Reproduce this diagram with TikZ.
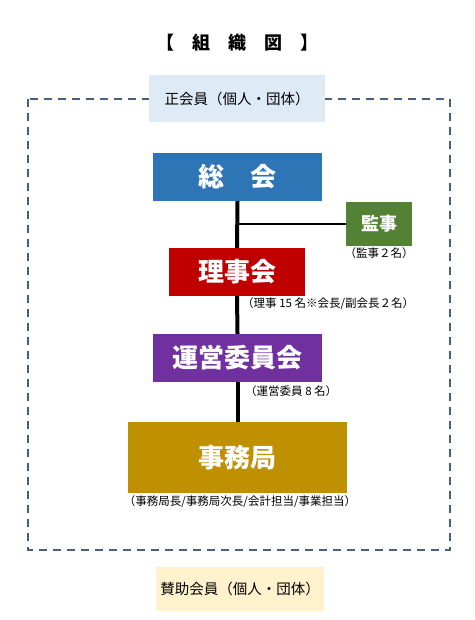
\documentclass[tikz,border=0pt]{standalone}
\usepackage{fontspec}
\setmainfont{Noto Sans CJK JP}
\usepackage{xcolor}
\usetikzlibrary{positioning,calc}

\definecolor{soukaiblue}{HTML}{2E75B6}
\definecolor{rijired}{HTML}{C00000}
\definecolor{kanjigreen}{HTML}{548235}
\definecolor{uneipurple}{HTML}{7030A0}
\definecolor{jimugold}{HTML}{BF9000}
\definecolor{memberblue}{HTML}{DEEBF7}
\definecolor{supportyellow}{HTML}{FFF2CC}
\definecolor{frameline}{HTML}{44607F}

\begin{document}
\begin{tikzpicture}[x=1pt,y=-1pt,
			organ/.style={rectangle, draw=none, text=white, font=\fontsize{26}{26}\selectfont\bfseries, inner sep=0pt, align=center},
			member/.style={rectangle, draw=none, font=\fontsize{14.5}{15}\selectfont, inner sep=0pt, minimum height=45pt},
			note/.style={font=\fontsize{11.5}{12}\selectfont, inner sep=0pt},
			trunk/.style={line width=4pt},
			branch/.style={line width=1.6pt}
			]
			\useasboundingbox (0,0) rectangle (474,620);
			
			\node[font=\fontsize{18}{18}\selectfont\bfseries] (title) at (237,43) {【　組　織　図　】};
			
			\draw[frameline, line width=2.5pt, dash pattern=on 8pt off 6pt] (28,99) rectangle (450,550);
			
			\node[member, fill=memberblue, minimum width=176pt, minimum height=47pt] (seikai) at (237,98.5) {正会員（個人・団体）};
			
			\node[organ, fill=soukaiblue, minimum width=169pt, minimum height=48pt] (soukai) at (237.5,177) {総　会};
			\node[organ, fill=kanjigreen, minimum width=66pt, minimum height=44pt, font=\fontsize{18}{18}\selectfont\bfseries] (kanji) at (379,224) {監事};
			\node[organ, fill=rijired, minimum width=136pt, minimum height=48pt] (riji) at (237,272) {理事会};
			\node[organ, fill=uneipurple, minimum width=169pt, minimum height=48pt] (unei) at (237.5,358) {運営委員会};
			\node[organ, fill=jimugold, minimum width=219pt, minimum height=71pt] (jimu) at (237.5,457.5) {事務局};
			
			\node[member, fill=supportyellow, minimum width=168pt, minimum height=44pt] (sanjo) at (240,589) {賛助会員（個人・団体）};
			
			\node[note] (kanjinote) at (379,253) {（監事２名）};
			\node[note, anchor=west] (rijinote) at (242,304) {（理事 15 名※会長/副会長２名）};
			\node[note, anchor=west] (uneinote) at (245,391) {（運営委員 8 名）};
			\node[note] (jiminote) at (240,502) {（事務局長/事務局次長/会計担当/事業担当）};
			
			\coordinate (junc) at (soukai.south |- kanji.west);
			
			\draw[trunk] (soukai.south) -- (riji.north);
			\draw[trunk] (riji.south) -- (unei.north);
			\draw[trunk] (unei.south) -- (jimu.north);
			\draw[branch] (junc) -- (kanji.west);
		\end{tikzpicture}
\end{document}
